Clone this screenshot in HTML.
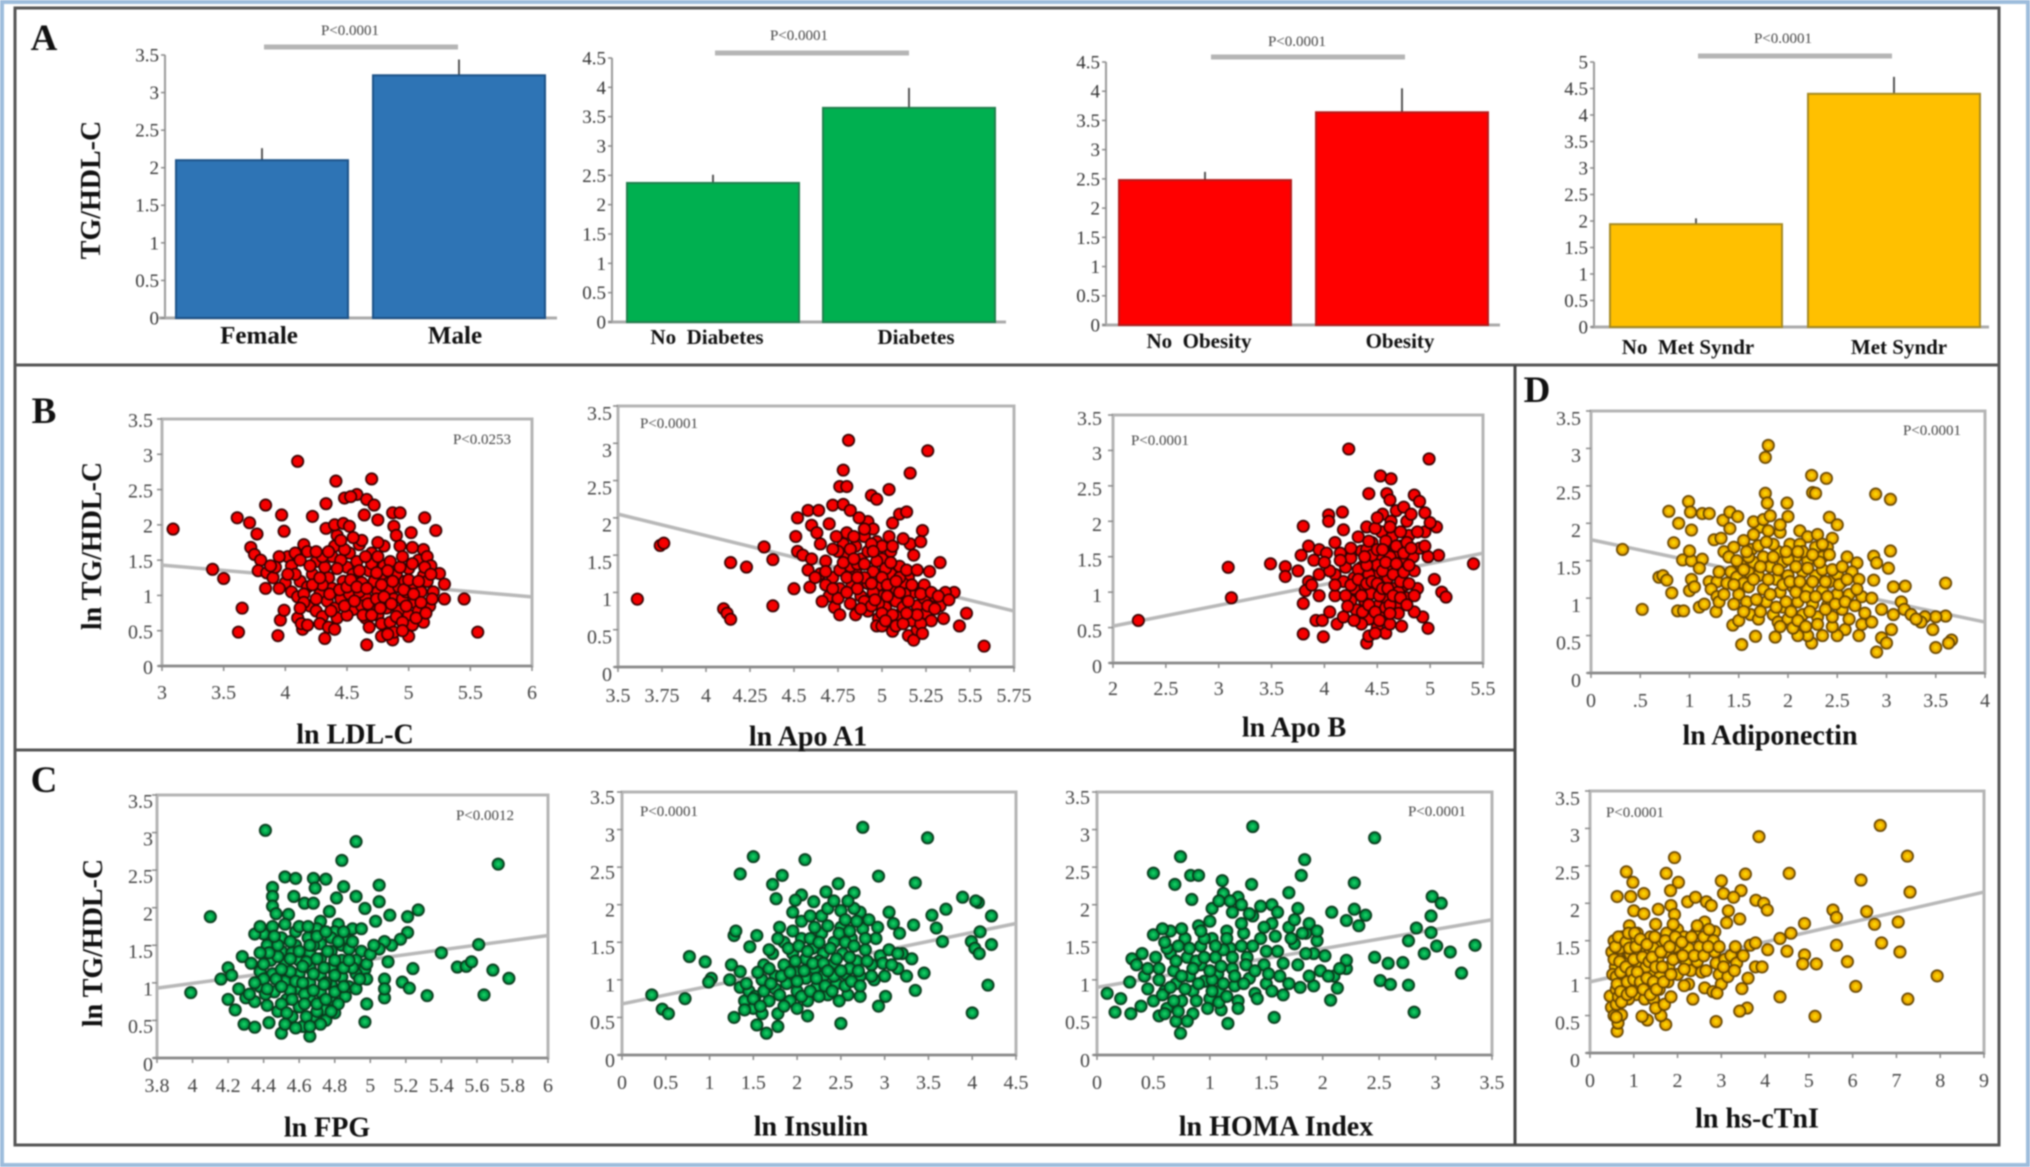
<!DOCTYPE html>
<html lang="en">
<head>
<meta charset="utf-8">
<title>TG/HDL-C composite figure</title>
<style>
html,body{margin:0;padding:0;background:#fff;width:2030px;height:1167px;overflow:hidden}
svg{display:block;filter:blur(.9px)}
text{font-family:"Liberation Serif",serif}
</style>
</head>
<body>
<svg id="figure" xmlns="http://www.w3.org/2000/svg" width="2030" height="1167" viewBox="0 0 2030 1167">
  <defs>
    <radialGradient id="dot-red"><stop offset="0" stop-color="#ff0000"/><stop offset=".7" stop-color="#ee0000"/><stop offset="1" stop-color="#a00000"/></radialGradient>
    <radialGradient id="dot-green"><stop offset="0" stop-color="#18d468"/><stop offset=".6" stop-color="#00a048"/><stop offset="1" stop-color="#005a2a"/></radialGradient>
    <radialGradient id="dot-orange"><stop offset="0" stop-color="#ffe000"/><stop offset=".65" stop-color="#eba800"/><stop offset="1" stop-color="#a87400"/></radialGradient>
  </defs>
  <rect x="0" y="0" width="2030" height="1167" fill="#9dbcdc"/>
  <rect x="4" y="4" width="2022" height="1159" fill="#ffffff"/>
  <rect x="15" y="8" width="1984" height="1137" fill="#ffffff" stroke="#555555" stroke-width="3"/>
  <line x1="15" y1="365" x2="1999" y2="365" stroke="#555555" stroke-width="3"/>
  <line x1="15" y1="750" x2="1515" y2="750" stroke="#555555" stroke-width="3"/>
  <line x1="1515" y1="365" x2="1515" y2="1145" stroke="#444444" stroke-width="3"/>
  <text x="44" y="50" font-size="37" font-weight="bold" text-anchor="middle" fill="#111">A</text>
  <text x="44" y="423" font-size="37" font-weight="bold" text-anchor="middle" fill="#111">B</text>
  <text x="44" y="792" font-size="37" font-weight="bold" text-anchor="middle" fill="#111">C</text>
  <text x="1537" y="402" font-size="37" font-weight="bold" text-anchor="middle" fill="#111">D</text>
  <text transform="translate(100,190) rotate(-90)" font-size="28" font-weight="bold" text-anchor="middle" fill="#111">TG/HDL-C</text>
  <text transform="translate(101,546) rotate(-90)" font-size="28" font-weight="bold" text-anchor="middle" fill="#111">ln TG/HDL-C</text>
  <text transform="translate(102,943) rotate(-90)" font-size="28" font-weight="bold" text-anchor="middle" fill="#111">ln TG/HDL-C</text>
</svg>
<script>
/* ---------- bar chart data ---------- */
const sexCategories=["Female","Male"];
const sexValues=[2.10,3.23];
const sexErrors=[0.16,0.21];
const sexTicks=[0,0.5,1,1.5,2,2.5,3,3.5];
const diabetesCategories=["No\u00a0 Diabetes","Diabetes"];
const diabetesValues=[2.37,3.65];
const diabetesErrors=[0.14,0.34];
const diabetesTicks=[0,0.5,1,1.5,2,2.5,3,3.5,4,4.5];
const obesityCategories=["No\u00a0 Obesity","Obesity"];
const obesityValues=[2.48,3.64];
const obesityErrors=[0.14,0.41];
const obesityTicks=[0,0.5,1,1.5,2,2.5,3,3.5,4,4.5];
const metCategories=["No\u00a0 Met Syndr","Met Syndr"];
const metValues=[1.94,4.40];
const metErrors=[0.11,0.32];
const metTicks=[0,0.5,1,1.5,2,2.5,3,3.5,4,4.5,5];

/* ---------- scatter data ---------- */
const scatterYTicks=["0","0.5","1","1.5","2","2.5","3","3.5"];

const ldlXTicks=["3","3.5","4","4.5","5","5.5","6"];
const ldlTrend=[1.43,0.98];
const ldlPoints=[[3.09,1.94],[4.10,2.90],[4.41,2.62],[4.70,2.65],[3.41,1.37],[3.50,1.24],[3.65,.82],[3.62,.48],[3.61,2.10],[3.71,2.03],[3.77,1.87],[3.84,2.28],[3.97,2.14],[3.99,1.91],[4.22,2.12],[4.33,2.30],[4.48,2.38],[4.58,2.43],[4.53,2.40],[4.66,2.36],[4.72,2.28],[4.64,2.14],[4.75,2.07],[4.87,2.17],[4.93,2.17],[5.02,1.89],[5.13,2.10],[5.22,1.92],[5.45,.95],[5.56,.48],[5.29,.95],[5.25,1.31],[5.29,1.16],[3.84,1.10],[3.94,.43],[3.96,.65],[3.99,.79],[4.66,.30],[4.32,.39],[5.0,.42],[4.14,.52],[4.87,.37],
[4.02,1.55],[4.05,1.42],[4.08,1.6],[4.12,1.5],[4.15,1.72],[4.18,1.62],[4.25,1.48],[4.0,1.18],[4.05,1.05],[4.1,.98],[4.12,1.2],[4.18,1.12],[4.22,1.3],[4.28,1.02],[4.2,.85],[4.25,.78],[4.3,.7],[4.1,.68],[4.13,.6],[4.18,.58],[4.32,1.4],[4.35,1.25],[4.38,1.55],[4.4,1.7],[4.42,1.85],[4.33,1.95],[4.38,1.1],[4.34,.92],[4.4,.82],[4.42,.68],[4.45,.95],[4.47,1.2],[4.5,1.4],[4.52,1.6],[4.55,1.3],[4.58,1.48],[4.6,1.72],[4.52,1.02],[4.55,.8],[4.5,.72],[4.62,1.18],[4.65,.98],[4.68,1.35],[4.7,1.6],[4.72,1.2],[4.75,1.05],[4.62,.85],[4.65,.68],[4.68,.55],[4.72,.88],[4.75,.72],[4.78,.6],[4.8,1.42],[4.82,1.25],[4.85,1.1],[4.88,.95],[4.8,1.7],[4.85,1.48],[4.9,1.3],[4.92,1.12],[4.82,.82],[4.85,.62],[4.88,.48],[4.92,.78],[4.95,.95],[4.97,1.2],[5.0,1.38],[5.02,1.1],[5.05,.9],[5.0,.72],[5.03,.58],[5.08,.78],[5.1,1.05],[5.12,1.28],[5.08,1.5],[5.12,1.65],[5.15,1.55],[5.18,1.42],[5.2,1.05],[5.17,.85],[5.12,.62],[5.15,1.2],[4.88,1.98],[4.9,1.85],[4.93,1.7],[3.72,1.68],[3.75,1.58],[3.8,1.5],[3.78,1.35],[3.85,1.32],[3.9,1.25],[3.95,1.55],[3.95,1.1],[4.4,2.0],[4.47,2.02],[4.52,1.98],[4.62,1.78],[4.75,1.75],[4.3,1.15],[4.6,1.05],[4.78,1.3],[4.98,1.05],[4.25,.95],[4.45,1.5],
[4.08,1.3],[4.15,1.02],[4.15,.9],[4.22,1.15],[4.28,1.25],[4.3,1.55],[4.36,1.02],[4.37,.78],[4.42,1.38],[4.44,1.08],[4.48,.85],[4.5,1.12],[4.53,1.22],[4.56,.92],[4.58,1.12],[4.6,1.35],[4.63,.72],[4.66,1.1],[4.67,.88],[4.7,1.45],[4.7,.72],[4.74,1.32],[4.74,.95],[4.77,.82],[4.78,1.15],[4.8,.98],[4.83,1.35],[4.86,.88],[4.87,1.2],[4.9,.7],[4.93,1.4],[4.95,.62],[4.96,1.08],[4.98,.85],[5.0,1.22],[5.03,1.45],[5.04,1.02],[5.06,.68],[5.08,1.2],[5.1,.9],[5.13,1.4],[5.14,.75],[5.18,1.3],[5.19,.95],[4.35,1.62],[4.48,1.65],[4.65,1.55],[4.75,1.55],[4.95,1.55],[5.03,1.68],[4.25,1.62],[4.2,1.42],[4.12,.82],[4.02,1.3],[3.92,1.4],[3.88,1.42],[4.55,1.82],[4.45,1.78],[4.28,.6],[4.35,.55],[4.4,.52],[4.95,.5],[4.78,.42],[4.83,.45]];

const apoaXTicks=["3.5","3.75","4","4.25","4.5","4.75","5","5.25","5.5","5.75"];
const apoaTrend=[2.05,.75];
const apoaPoints=[[3.61,.91],[3.74,1.63],[3.76,1.66],[4.14,1.40],[4.23,1.34],[4.10,.78],[4.12,.72],[4.14,.64],[4.33,1.61],[4.38,1.44],[4.38,.82],[4.50,1.05],[4.59,1.07],[4.81,3.04],[5.26,2.90],[5.16,2.60],[4.78,2.64],[5.04,2.38],[4.76,2.42],[4.80,2.42],[4.94,2.30],[5.58,.28],[5.48,.72],[5.44,.55],[5.41,1.0],[5.33,1.40],[5.23,1.83],[4.97,2.25],[4.72,2.17],[4.78,2.18],[4.82,2.1],[4.58,2.1],[4.64,2.1],[4.52,2.0],[4.51,1.75],[4.52,1.55],[4.55,1.5],[4.6,1.9],[4.63,1.8],[4.7,1.92],[4.65,1.65],[4.58,1.3],[4.65,1.25],[4.68,1.42],[4.72,1.2],[4.7,.95],[4.73,.8],[4.76,.7],[4.82,.85],[4.76,1.05],[4.76,1.3],[4.8,1.5],[4.78,1.65],[4.8,1.8],[4.85,1.62],[4.88,1.45],[4.85,1.28],[4.83,1.1],[4.88,.95],[4.92,.75],[4.98,.65],[4.92,1.12],[4.95,1.28],[4.92,1.55],[4.9,1.75],[4.92,1.95],[4.95,1.85],[4.97,1.68],[5.0,1.45],[4.98,1.1],[5.0,.95],[5.02,.8],[5.03,.6],[5.06,.48],[5.15,.42],[5.18,.36],[5.2,.5],[5.17,.62],[5.1,.7],[5.08,.88],[5.08,1.05],[5.05,1.25],[5.1,1.35],[5.05,1.55],[5.04,1.75],[5.06,1.93],[5.1,2.05],[5.14,2.08],[5.16,1.65],[5.22,1.68],[5.18,1.5],[5.15,1.2],[5.18,1.0],[5.2,.82],[5.25,.72],[5.27,1.28],[5.24,1.1],[5.3,.95],[5.33,.82],[5.35,.65],[5.36,1.0],[5.28,.62],[5.22,.58],[5.0,1.62],[4.95,1.0],[4.85,.7],[5.12,1.12],[4.68,1.1],[4.74,1.75],[5.02,1.32],[4.9,1.2],[5.13,.98],[5.24,.92],[4.87,2.0],[4.82,1.35],[4.98,.85],
[4.75,1.55],[4.78,1.4],[4.8,1.2],[4.84,1.75],[4.86,1.38],[4.86,1.05],[4.9,1.85],[4.9,1.38],[4.9,.88],[4.94,1.65],[4.94,1.12],[4.94,.82],[4.97,1.42],[4.97,.55],[5.0,1.2],[5.0,.72],[5.0,.55],[5.03,1.1],[5.03,.95],[5.05,1.4],[5.06,.7],[5.08,.55],[5.1,1.2],[5.1,1.0],[5.12,.8],[5.12,.58],[5.14,1.3],[5.15,.88],[5.17,1.1],[5.2,1.3],[5.2,.7],[5.22,.98],[5.23,.45],[5.26,.82],[5.28,1.0],[5.3,.78],[5.32,.95],[5.38,.9],[4.86,1.2],[4.82,1.58],[4.88,.78],[4.75,.92],[4.72,1.05],[4.68,1.28],[4.66,.88],[4.62,1.2],[4.6,1.45],[4.72,1.58],[4.95,1.55],[5.08,1.15],[5.14,.72],[5.02,.62],[4.96,.9],[4.8,1.0],[4.84,1.45],[5.06,1.62],[5.12,1.72]];

const apobXTicks=["2","2.5","3","3.5","4","4.5","5","5.5"];
const apobTrend=[.52,1.55];
const apobPoints=[[2.24,.60],[3.09,1.35],[3.12,.92],[3.49,1.40],[3.63,1.36],[3.63,1.22],[3.8,.84],[3.8,.41],[3.8,1.93],[4.04,2.09],[4.04,2.0],[4.17,2.13],[4.23,3.02],[4.99,2.88],[4.53,2.64],[4.63,2.6],[4.42,2.39],[4.59,2.39],[4.62,2.3],[4.85,2.37],[4.9,2.28],[5.41,1.40],[5.04,1.18],[5.11,1.0],[5.15,.93],[4.98,.49],[4.93,.65],[4.40,.28],[3.99,.37],[5.08,1.52],[5.06,1.92],[4.95,2.12],[4.78,2.0],[4.55,2.1],[4.63,2.0],[4.4,1.92],[4.18,1.88],[4.1,1.7],[3.95,1.6],[4.02,1.55],[3.85,1.65],[3.78,1.52],[3.75,1.3],[3.85,1.15],[3.82,1.02],[3.95,1.25],[3.95,.95],[3.92,.6],[3.98,.6],[4.05,.72],[4.1,.95],[4.12,.55],[4.18,.65],[4.18,1.15],[4.2,1.35],[4.25,1.48],[4.28,1.2],[4.3,.98],[4.3,.75],[4.35,1.58],[4.35,1.35],[4.38,1.1],[4.38,.88],[4.42,.62],[4.43,1.45],[4.45,1.7],[4.48,1.25],[4.48,1.02],[4.5,.8],[4.5,.5],[4.52,1.48],[4.54,1.85],[4.56,1.62],[4.56,1.15],[4.58,.92],[4.6,.68],[4.62,1.35],[4.64,1.78],[4.66,1.55],[4.66,1.05],[4.68,.82],[4.7,1.25],[4.72,1.65],[4.74,1.42],[4.76,1.1],[4.78,.92],[4.73,.52],[4.8,1.8],[4.84,1.5],[4.85,1.3],[4.85,.72],[4.9,1.62],[4.95,1.85],[5.0,1.98],[4.98,1.5],[4.42,.38],[4.58,.42],[4.32,1.78],[4.25,1.62],[4.15,1.55],[4.1,1.25],[4.42,1.25],[4.5,1.38],[4.6,1.2],[4.44,.98],[4.36,.72],[4.7,1.0],[4.55,.72],[4.88,1.05],[4.62,1.5],[4.4,1.6],[4.28,1.05],[4.72,1.85],[4.48,1.9],
[4.25,1.1],[4.25,.88],[4.32,1.32],[4.32,1.18],[4.35,.95],[4.4,1.38],[4.4,1.12],[4.42,.82],[4.45,1.52],[4.45,1.15],[4.48,.72],[4.5,1.6],[4.5,1.12],[4.52,.95],[4.52,.6],[4.55,1.3],[4.55,1.05],[4.58,1.72],[4.58,1.42],[4.58,.78],[4.6,1.05],[4.62,.82],[4.62,.55],[4.65,1.25],[4.65,.95],[4.68,1.65],[4.68,1.4],[4.7,.7],[4.72,1.15],[4.72,.92],[4.75,1.55],[4.75,1.28],[4.78,1.7],[4.78,.82],[4.8,1.38],[4.8,1.12],[4.82,1.62],[4.85,.95],[4.2,.95],[4.15,1.45],[4.1,1.1],[4.05,1.3],[4.35,.55],[4.28,.6],[4.22,.8],[4.38,1.5],[4.42,1.72],[4.62,1.92],[4.68,2.15],[4.75,2.2],[4.5,2.05],[4.82,2.1],[4.88,1.85],[4.95,1.65],[4.55,1.6],[4.48,.42],[4.62,.7],[3.9,1.45],[3.88,1.1],[4.0,1.42]];

const adipoXTicks=["0",".5","1","1.5","2","2.5","3","3.5","4"];
const adipoTrend=[1.78,.68];
const adipoPoints=[[.32,1.65],[.52,.85],[.79,2.16],[.99,2.29],[1.80,3.04],[1.77,2.88],[2.24,2.64],[2.39,2.6],[2.25,2.41],[2.28,2.4],[1.77,2.4],[1.79,2.27],[1.99,2.27],[2.89,2.39],[3.04,2.32],[3.6,1.2],[3.66,.44],[3.63,.4],[3.5,.34],[2.9,.28],[1.53,.38],[1.67,.49],[1.87,.48],[2.24,.4],[2.2,.5],[3.6,.76],[3.5,.75],[3.39,.75],[3.47,.58],[3.35,.68],[3.04,1.63],[3.02,1.4],[2.87,1.56],[2.9,1.47],[2.87,1.24],[3.07,1.15],[3.19,1.16],[.84,1.74],[.93,1.51],[1.02,1.5],[1.0,1.63],[.69,1.28],[.73,1.3],[.77,1.24],[.82,1.07],[.88,.83],[.94,.83],[1.1,.88],[1.15,.92],[1.27,.82],[1.44,.64],[1.5,.7],[.89,2],[1.01,2.15],[1.13,2.13],[1.2,2.13],[1.34,2.04],[1.41,2.15],[1.49,2.09],[1.41,1.93],[1.02,1.91],[1.13,1.52],[1.1,1.4],[1.02,1.25],[1.0,1.1],[1.05,1.15],[1.2,1.22],[1.28,1.22],[1.22,1.12],[1.28,1.02],[1.3,.95],[1.25,1.78],[1.32,1.8],[1.35,1.62],[1.45,1.68],[1.4,1.55],[1.55,1.77],[1.63,1.65],[1.7,1.7],[1.72,1.95],[1.65,2.02],[1.75,2.05],[1.82,2.1],[1.8,1.9],[1.92,1.88],[2.0,2.09],[2.12,1.9],[2.2,1.82],[2.3,1.85],[2.42,2.08],[2.5,1.98],[2.45,1.8],[2.4,1.68],[2.35,1.55],[2.6,1.55],[2.7,1.47],[2.65,1.35],[2.72,1.25],[2.55,1.22],[2.62,1.05],[2.75,1.02],[2.85,1.0],[2.95,.85],[3.07,.78],[3.15,.95],[3.18,.85],[3.25,.78],[3.3,.72],[3.05,.58],[2.95,.47],[3.0,.4],[2.72,.5],[2.75,.65],[2.85,.68],[2.78,.8],[2.58,.58],[2.5,.5],[2.35,.5],[2.1,.5],[2.45,.62],
[1.42,1.35],[1.48,1.28],[1.55,1.2],[1.5,1.05],[1.45,.92],[1.58,.95],[1.62,.78],[1.7,.72],[1.6,1.35],[1.65,1.48],[1.7,1.3],[1.75,1.12],[1.78,.95],[1.85,.78],[1.9,.68],[1.75,1.55],[1.82,1.42],[1.88,1.25],[1.92,1.08],[1.95,.88],[2.0,.72],[2.05,.6],[1.9,1.62],[1.95,1.48],[2.0,1.3],[2.05,1.15],[2.1,.95],[2.15,.78],[2.02,1.72],[2.08,1.55],[2.15,1.35],[2.2,1.12],[2.25,.92],[2.3,.75],[2.2,1.5],[2.28,1.3],[2.35,1.1],[2.4,.9],[2.45,.75],[2.35,1.38],[2.42,1.22],[2.5,1.05],[2.55,.85],[2.5,1.32],[2.28,1.68],[2.12,1.72],[1.85,1.72],[1.6,1.15],[1.3,1.35],
[1.52,1.45],[1.55,.82],[1.65,1.25],[1.68,.98],[1.72,1.42],[1.72,.82],[1.8,1.25],[1.82,1.05],[1.85,1.55],[1.88,.88],[1.9,1.38],[1.92,.62],[1.95,1.18],[1.98,.95],[2.0,1.52],[2.02,1.22],[2.03,.82],[2.08,1.42],[2.08,1.08],[2.1,.7],[2.12,1.22],[2.18,1.02],[2.18,.62],[2.2,1.4],[2.22,.82],[2.25,1.22],[2.28,1.02],[2.3,.65],[2.32,1.48],[2.38,1.22],[2.38,.85],[2.4,1.02],[2.45,1.38],[2.48,.92],[2.52,1.18],[2.55,1.42],[2.58,.95],[2.62,.72],[2.68,.9],[2.7,1.12],[2.15,1.62],[1.98,1.62],[1.6,1.55],[1.48,1.5],[1.38,1.2],[1.35,1.05],[1.45,1.18],[1.65,1.85],[1.58,1.62],[1.78,1.75],[1.92,1.98],[2.1,1.62],[2.25,1.58],[2.35,1.72],[1.55,1.38],[2.42,1.58],[2.6,1.25]];

const tnXTicks=["0","1","2","3","4","5","6","7","8","9"];
const tnTrend=[.95,2.15];
const tnPoints=[[.83,2.42],[.98,2.28],[1.93,2.61],[1.74,2.4],[2.02,2.28],[1.84,2.17],[3.86,2.89],[6.63,3.04],[7.25,2.63],[6.19,2.31],[7.31,2.15],[4.55,2.4],[3.55,2.39],[3.0,2.3],[3.05,2.13],[3.45,2.17],[3.28,2.08],[3.79,2.04],[3.97,2],[4.05,1.91],[3.16,1.9],[3.12,1.74],[3.42,1.79],[5.55,1.91],[5.63,1.81],[4.9,1.73],[6.32,1.89],[6.5,1.72],[7.04,1.75],[6.66,1.47],[5.63,1.44],[7.08,1.35],[4.59,1.6],[4.34,1.53],[4.5,1.36],[4.06,1.38],[4.9,1.31],[4.86,1.19],[5.17,1.19],[5.88,1.22],[6.07,.89],[7.93,1.03],[7.26,.72],[4.34,.75],[5.14,.49],[2.88,.42],[3.59,.6],[3.42,.56],[3.47,.86],[3.61,1],[3.78,1.15],[3.93,1.15],[3.66,1.44],[3.78,1.47],[.62,2.09],[.93,2.09],[1.23,2.13],[1,1.9],[1.23,1.86],[1.56,1.92],[1.85,1.97],[1.93,1.85],[2.23,2.02],[2.41,2.08],[2.66,2.02],[2.77,1.97],[2.62,1.75],[2.85,1.62],[.62,.29],[.64,.4],[.72,.51],[.49,.61],[.46,.76],[1.73,.38],[1.31,.44],[1.19,.49],[1.62,.5],[2.35,.72],[2.62,.87],[2.81,.82],
[.55,1.5],[.62,1.32],[.58,1.15],[.65,1.0],[.6,.85],[.72,1.55],[.78,1.4],[.75,1.22],[.8,1.05],[.72,.9],[.78,.72],[.9,1.7],[.95,1.5],[.92,1.32],[.98,1.15],[.9,.95],[1.05,.78],[1.08,1.6],[1.15,1.38],[1.1,1.2],[1.18,1.02],[1.12,.88],[1.25,.72],[1.38,1.55],[1.32,1.3],[1.4,1.1],[1.35,.92],[1.45,.72],[1.5,.6],[1.5,1.72],[1.58,1.45],[1.55,1.25],[1.6,1.02],[1.58,.85],[1.7,.65],[1.75,1.6],[1.72,1.35],[1.8,1.15],[1.78,.95],[1.85,.75],[2.0,1.65],[1.95,1.42],[2.05,1.28],[2.0,1.05],[2.15,1.55],[2.25,1.4],[2.2,1.22],[2.3,1.1],[2.25,.92],[2.42,1.6],[2.5,1.42],[2.45,1.22],[2.55,1.08],[2.6,1.55],[2.72,1.65],[2.82,1.5],[2.85,1.35],[2.88,1.2],[2.95,1.05],[3.0,.92],[2.9,.8],[3.08,1.25],[3.22,1.3],[3.32,1.42],[3.35,1.2],[3.15,1.02],[3.5,1.3],[.52,1.05],[.5,1.35],[.6,.65],[.88,.72],[1.05,1.35],[1.45,1.4],[.68,1.4],[1.28,1.15],
[.55,1.25],[.58,1.42],[.6,1.02],[.62,.92],[.65,.75],[.65,1.55],[.68,1.22],[.7,1.08],[.7,.82],[.72,.68],[.82,1.48],[.82,1.15],[.85,.95],[.85,.78],[.88,1.6],[.9,1.4],[.95,1.08],[.95,.82],[1.0,1.25],[1.0,.98],[1.02,1.6],[1.05,1.42],[1.08,1.08],[1.15,.95],[1.15,1.52],[1.2,1.28],[1.22,.85],[1.3,1.45],[1.3,1.0],[1.35,1.22],[1.38,.78],[1.42,1.28],[1.45,.95],[1.48,1.55],[1.5,1.15],[1.52,.85],[1.62,1.35],[1.65,1.15],[1.68,.95],[1.72,1.5],[1.82,1.42],[1.85,1.05],[1.9,1.25],[1.95,1.55],[2.1,1.48],[2.12,1.3],[2.15,1.12],[2.32,1.55],[2.38,1.3],[2.6,1.3],[2.65,1.1],[2.7,1.42],[2.95,1.42],[3.05,1.15],[2.15,.9],[.55,.5],[.6,.48],[1.9,1.72],[2.45,1.7],[3.3,1.1]];

const fpgXTicks=["3.8","4","4.2","4.4","4.6","4.8","5","5.2","5.4","5.6","5.8","6"];
const fpgTrend=[.93,1.63];
const fpgPoints=[[3.99,.87],[4.1,1.88],[4.41,3.03],[4.92,2.88],[4.84,2.63],[5.72,2.58],[5.05,2.3],[5.05,2.08],[5.27,1.97],[5.21,1.88],[5.21,1.67],[5.4,1.4],[5.61,1.51],[5.49,1.21],[5.54,1.22],[5.57,1.28],[5.69,1.17],[5.78,1.06],[5.64,.84],[5.32,.83],[5.24,1.19],[4.97,.48],[4.98,.72],[5.08,.8],[5.18,1.01],[5.22,.93],[4.66,.29],[4.5,.33],[4.29,.45],[4.35,.41],[4.43,.47],[4.2,.78],[4.24,.64],[4.16,1.05],[4.2,1.2],[4.28,1.35],[4.33,1.26],[4.52,2.41],[4.58,2.39],[4.68,2.39],[4.75,2.38],[4.69,2.26],[4.45,2.27],[4.85,2.28],[4.81,2.13],[4.92,2.15],[4.97,1.99],[5.11,1.9],[5.03,1.82],[4.45,2.15],[4.45,2.02],[4.47,1.92],[4.54,1.91],[4.57,2.15],[4.63,2.06],[4.68,2.06],[4.77,1.95],[5.17,1.58],[5.12,1.5],[5.08,1.55],[5.05,1.45],[5.1,1.28],[5.08,1.05],[5.08,.92],[4.97,1.18],[4.98,1.05],[4.95,1.42],[4.92,1.3],[4.9,1.72],[4.95,1.72],[4.82,1.78],[4.72,1.82],[4.8,1.68],[4.4,1.65],[4.45,1.75],[4.52,1.78],
[4.22,1.1],[4.26,.92],[4.3,.8],[4.35,.75],[4.38,1.15],[4.38,.95],[4.42,.7],[4.42,1.5],[4.44,1.3],[4.45,1.12],[4.46,.88],[4.48,.62],[4.5,1.6],[4.5,1.42],[4.52,1.25],[4.52,1.02],[4.53,.78],[4.56,.55],[4.58,1.68],[4.58,1.5],[4.6,1.3],[4.6,1.12],[4.6,.92],[4.6,.68],[4.62,.42],[4.65,1.6],[4.66,1.4],[4.66,1.2],[4.66,1.0],[4.66,.78],[4.68,.55],[4.7,1.72],[4.72,1.52],[4.72,1.32],[4.72,1.1],[4.72,.88],[4.74,.65],[4.78,1.6],[4.78,1.42],[4.78,1.2],[4.78,.98],[4.78,.78],[4.8,.6],[4.84,1.5],[4.84,1.3],[4.84,1.08],[4.86,.82],[4.88,.95],[4.92,1.12],[4.9,1.2],[4.86,1.6],[4.55,1.15],[4.68,1.5],[4.48,1.35],[4.63,.85],[4.75,1.0],[4.4,1.05],[4.55,.9],[4.7,.62],[4.82,.72],[4.64,1.28],[4.56,1.4],
[4.4,1.25],[4.41,.85],[4.43,1.4],[4.47,1.05],[4.48,1.5],[4.5,1.18],[4.5,.95],[4.5,.72],[4.53,.6],[4.55,1.55],[4.55,1.32],[4.56,.78],[4.58,1.02],[4.6,1.42],[4.62,1.22],[4.62,1.0],[4.63,.72],[4.64,.55],[4.66,1.5],[4.68,1.12],[4.68,.9],[4.7,.72],[4.7,1.32],[4.7,1.62],[4.74,1.2],[4.74,.98],[4.75,.78],[4.76,1.42],[4.8,1.3],[4.8,1.1],[4.8,.88],[4.82,1.55],[4.85,1.2],[4.85,.95],[4.88,1.45],[4.88,1.3],[4.9,1.55],[4.92,.92],[4.94,1.05],[4.98,1.25],[5.0,1.38],[5.02,1.5],[4.75,1.68],[4.85,1.68],[4.6,1.75],[4.65,1.75],[4.42,.92],[4.35,1.0],[4.32,.85],[4.38,1.4],[4.35,1.65],[4.38,1.75],[4.46,1.62],[4.52,.45],[4.75,.5],[4.72,.45],[4.66,.42],[4.58,.4],[4.78,.62]];

const insulinXTicks=["0","0.5","1","1.5","2","2.5","3","3.5","4","4.5"];
const insulinTrend=[.68,1.75];
const insulinPoints=[[.34,.8],[.46,.61],[.53,.55],[.72,.75],[.77,1.31],[.95,1.24],[1.02,1.02],[.99,.97],[1.35,2.41],[1.5,2.64],[2.09,2.6],[2.75,3.03],[3.49,2.89],[2.93,2.38],[3.35,2.29],[1.83,2.39],[1.72,2.27],[1.76,2.08],[3.89,2.1],[4.07,2.03],[4.04,2.05],[4.22,1.85],[3.7,1.94],[3.54,1.86],[3.59,1.69],[3.66,1.51],[3.33,1.73],[4.09,1.64],[3.99,1.51],[4.03,1.42],[4.22,1.47],[4.08,1.35],[4.18,.93],[4,.56],[3.35,.86],[3.45,1.09],[3.31,1.28],[1.28,1.59],[1.3,1.65],[1.54,1.59],[1.46,1.44],[1.25,1.2],[1.35,1.11],[1.23,1],[1.28,.5],[1.65,.29],[1.54,.4],[1.78,.38],[2.5,.42],[2.12,.52],[2.93,.65],[3.01,.78],[2.47,2.28],[2.65,2.16],[2.33,2.17],[2.05,2.13],[1.98,2.06],[2.19,2.04],[2.72,1.9],[3.05,1.9],[3.1,1.75],[3.17,1.62],
[1.35,.9],[1.4,.72],[1.45,.85],[1.5,.62],[1.52,.78],[1.6,1.0],[1.6,.55],[1.68,.72],[1.62,1.2],[1.72,1.35],[1.75,1.05],[1.75,.88],[1.78,.55],[1.8,1.7],[1.85,1.5],[1.85,1.2],[1.88,.95],[1.92,.72],[1.95,1.35],[1.98,1.1],[2.0,.85],[2.05,1.78],[2.05,1.55],[2.1,1.28],[2.1,1.02],[2.12,.72],[2.18,1.42],[2.2,1.15],[2.22,.9],[2.28,1.85],[2.28,1.62],[2.3,1.35],[2.3,1.05],[2.35,.8],[2.42,1.5],[2.42,1.22],[2.45,.95],[2.5,1.7],[2.52,1.35],[2.55,1.08],[2.58,.8],[2.62,1.55],[2.65,1.95],[2.68,1.25],[2.72,.78],[2.75,1.68],[2.78,1.4],[2.85,1.2],[2.9,1.55],[2.95,1.32],[3.0,1.05],[2.88,1.0],[3.05,1.4],[3.15,1.15],[3.25,1.05],[3.2,1.35],[1.95,1.65],[2.25,1.25],[2.6,1.15],[2.2,1.7],[2.42,1.05],[1.62,.85],[2.5,1.92],[2.72,1.05],
[1.68,1.15],[1.7,.95],[1.8,.8],[1.82,1.05],[1.85,.65],[1.9,1.42],[1.92,1.1],[1.98,1.25],[2.0,.98],[2.02,1.45],[2.05,.78],[2.08,1.12],[2.12,1.38],[2.15,1.55],[2.15,.85],[2.18,1.22],[2.22,1.02],[2.25,1.5],[2.25,.78],[2.3,1.22],[2.32,.92],[2.35,1.72],[2.35,1.12],[2.38,1.42],[2.4,.85],[2.45,1.28],[2.48,1.62],[2.48,.72],[2.5,1.12],[2.55,1.5],[2.55,.92],[2.6,1.3],[2.62,.98],[2.65,1.45],[2.68,1.78],[2.7,1.12],[2.72,.92],[2.78,1.55],[2.8,1.25],[2.82,1.8],[2.85,1.05],[2.92,1.7],[2.98,1.22],[3.08,1.2],[3.15,1.35],[2.55,1.8],[2.35,1.95],[2.42,2.05],[2.58,2.05],[1.55,1.1],[1.5,.75],[1.42,.95],[1.4,.6],[1.58,.65],[1.95,1.9],[2.15,1.85],[1.68,1.4],[1.78,1.55],[2.6,1.65],[2.0,.62]];

const homaXTicks=["0","0.5","1","1.5","2","2.5","3","3.5"];
const homaTrend=[.9,1.8];
const homaPoints=[[.09,.82],[.21,.75],[.16,.57],[.39,.65],[.29,.97],[.31,1.28],[1.38,3.04],[2.46,2.89],[.74,2.64],[.5,2.42],[.69,2.27],[.83,2.39],[.9,2.39],[.84,2.07],[1.11,2.32],[1.37,2.27],[1.84,2.6],[1.81,2.39],[1.7,2.16],[2.28,2.29],[2.08,1.9],[2.28,1.94],[2.38,1.86],[2.21,1.79],[2.32,1.72],[2.97,2.11],[3.05,2.02],[2.96,1.85],[2.83,1.69],[2.96,1.63],[2.76,1.52],[3.01,1.45],[3.35,1.46],[3.13,1.37],[2.9,1.35],[2.46,1.3],[2.58,1.22],[2.71,1.23],[3.23,1.09],[2.51,.99],[2.6,.94],[2.76,.93],[2.81,.57],[1.57,.5],[1.16,.42],[.74,.29],[2.07,.73],[2.13,.89],[2.21,1.15],[2.21,1.26],
[.35,1.2],[.42,1.05],[.45,.88],[.5,1.6],[.52,1.3],[.55,1.0],[.5,.72],[.55,.52],[.6,.85],[.62,.62],[.65,1.65],[.65,1.35],[.68,1.12],[.7,.95],[.7,.45],[.75,.72],[.78,1.55],[.8,1.3],[.82,1.05],[.85,.85],[.85,.55],[.9,1.72],[.92,1.45],[.92,1.2],[.95,.98],[1.0,.75],[1.0,1.78],[1.02,1.55],[1.05,1.3],[1.07,1.08],[1.08,.85],[1.1,.6],[1.12,2.15],[1.15,1.65],[1.18,1.42],[1.2,1.15],[1.22,.92],[1.25,.72],[1.2,1.9],[1.25,2.1],[1.3,1.62],[1.33,1.3],[1.35,1.02],[1.4,.82],[1.38,1.85],[1.45,1.55],[1.48,1.2],[1.5,.95],[1.45,1.98],[1.55,1.75],[1.6,1.38],[1.62,1.05],[1.65,.8],[1.55,2.0],[1.7,1.7],[1.75,1.48],[1.78,1.2],[1.8,.9],[1.78,1.95],[1.85,1.62],[1.92,1.35],[1.92,.92],[1.95,1.52],[1.98,1.12],[2.02,1.32],[2.1,1.05],[1.88,1.75],[.72,1.45],[1.02,1.0],[1.12,1.4],[.88,1.25],[1.28,1.45],[.62,1.42],
[.4,1.35],[.45,1.15],[.55,1.15],[.58,.8],[.6,1.5],[.6,.55],[.65,.9],[.68,.72],[.7,1.25],[.72,.58],[.75,1.05],[.78,.88],[.8,.45],[.82,1.42],[.85,1.15],[.88,.72],[.9,.95],[.95,1.55],[.95,1.3],[.98,.62],[1.0,1.12],[1.02,.85],[1.05,1.45],[1.08,.7],[1.1,1.18],[1.12,.95],[1.15,1.55],[1.15,.78],[1.2,1.3],[1.22,1.05],[1.25,.62],[1.28,1.75],[1.3,.95],[1.32,1.2],[1.35,1.88],[1.38,1.45],[1.4,1.12],[1.42,.75],[1.48,1.7],[1.5,1.38],[1.52,1.08],[1.55,.85],[1.58,1.58],[1.6,1.9],[1.65,1.22],[1.7,.95],[1.72,1.55],[1.75,1.8],[1.82,1.62],[1.85,1.35],[1.88,1.05],[1.95,1.65],[1.02,1.95],[1.08,2.05],[1.18,2.05],[1.28,2.0],[.92,1.65],[.75,1.68],[.58,1.68],[.3,.55],[2.05,1.05],[2.15,1.15]];

/* ---------- drawing ---------- */
const SVG_NS="http://www.w3.org/2000/svg";
const fig=document.getElementById("figure");

function el(tag,attrs,parent){
  const node=document.createElementNS(SVG_NS,tag);
  for(const k in attrs){node.setAttribute(k,attrs[k]);}
  (parent||fig).appendChild(node);
  return node;
}
function label(txt,x,y,size,opts,parent){
  const t=el("text",Object.assign({x:x,y:y+size*0.34,"font-size":size,"text-anchor":"middle",fill:"#222"},opts||{}),parent);
  t.textContent=txt;
  return t;
}

function drawBarChart(id,g,categories,values,errors,ticks,color){
  const group=el("g",{});
  
  
  const yMax=ticks[ticks.length-1];
  const yScale=v=>g.y0-(v/yMax)*(g.y0-g.yTop);
  const axisY=el("line",{x1:g.axisX,y1:g.yTop,x2:g.axisX,y2:g.y0,stroke:"#999",'stroke-width':2},group);
  
  
  const axisX=el("line",{x1:g.xStart,y1:g.y0,x2:g.xEnd,y2:g.y0,stroke:"#aaa",'stroke-width':3},group);
  
  
  ticks.forEach(function(t){
    const y=yScale(t);
    const tick=el("line",{x1:g.axisX-4,y1:y,x2:g.axisX,y2:y,stroke:"#888",'stroke-width':1.5},group);
    
    
    const tl=label(String(t),g.axisX-6,y,19,{"text-anchor":"end",fill:"#333"},group);
    
    
  });
  values.forEach(function(v,i){
    const left=g.barLefts[i];
    const top=yScale(v);
    const errTop=yScale(v+errors[i]);
    const cx=left+g.barW/2;
    const err=el("line",{x1:cx,y1:errTop,x2:cx,y2:top,stroke:"#444",'stroke-width':1.8},group);
    
    
    const bar=el("rect",{x:left,y:top,width:g.barW,height:g.y0-top,fill:color.fill,stroke:color.edge,'stroke-width':2},group);
    
    
    const cat=label(categories[i],g.labelX[i],g.labelY,g.labelSize,{"font-weight":"bold",fill:"#111"},group);
    
    
  });
  const pbar=el("line",{x1:g.pX1,y1:g.pY,x2:g.pX2,y2:g.pY,stroke:"#b5b5b5",'stroke-width':5},group);
  
  
  const ptext=label("P<0.0001",g.pTextX,g.pTextY,15,{fill:"#444"},group);
  
  
}

function drawScatter(id,g,points,xTicks,trend,title,pval,dot){
  const group=el("g",{});
  
  
  const xMin=parseFloat(xTicks[0]);
  const xMax=parseFloat(xTicks[xTicks.length-1]);
  const yMax=parseFloat(scatterYTicks[scatterYTicks.length-1]);
  const sx=v=>g.l+(v-xMin)/(xMax-xMin)*(g.r-g.l);
  const sy=v=>g.b-(v/yMax)*(g.b-g.t);
  const box=el("rect",{x:g.l,y:g.t,width:g.r-g.l,height:g.b-g.t,fill:"#fff",stroke:"#b4b4b4",'stroke-width':3},group);
  
  
  const base=el("line",{x1:g.l-4,y1:g.b,x2:g.r,y2:g.b,stroke:"#8a8a8a",'stroke-width':2.5},group);
  
  
  scatterYTicks.forEach(function(t){
    const y=sy(parseFloat(t));
    const tick=el("line",{x1:g.l-5,y1:y,x2:g.l,y2:y,stroke:"#888",'stroke-width':1.5},group);
    
    
    const tl=label(t,g.l-g.yGap,y+g.yDy,20,{"text-anchor":"end",fill:"#444"},group);
    
    
  });
  xTicks.forEach(function(t){
    const x=sx(parseFloat(t));
    const tick=el("line",{x1:x,y1:g.b,x2:x,y2:g.b+5,stroke:"#888",'stroke-width':1.5},group);
    
    
    const tl=label(t,x,g.tickY,20,{fill:"#444"},group);
    
    
  });
  const line=el("line",{x1:sx(xMin),y1:sy(trend[0]),x2:sx(xMax),y2:sy(trend[1]),stroke:"#b8b8b8",'stroke-width':3.5},group);
  
  
  points.forEach(function(p){
    const c=el("circle",{cx:sx(p[0]),cy:sy(p[1]),r:5.8,fill:"url(#dot-"+dot.name+")",stroke:dot.edge,'stroke-width':1.5},group);
    
    
  });
  const pl=label(pval,g.pX,g.pY,15,{fill:"#444"},group);
  
  
  const xt=label(title,g.titleX,g.titleY,28,{"font-weight":"bold",fill:"#111"},group);
  
  
}

const blueBar={fill:"#2e74b5",edge:"#1c5288"};
const greenBar={fill:"#00b050",edge:"#1f7f4c"};
const redBar={fill:"#ff0000",edge:"#b51a1a"};
const goldBar={fill:"#ffc000",edge:"#a68a20"};
const redDot={name:"red",edge:"#330000"};
const greenDot={name:"green",edge:"#0a3a1c"};
const orangeDot={name:"orange",edge:"#664600"};

drawBarChart("sex",{axisX:165,yTop:55,y0:318,xStart:159,xEnd:557,barLefts:[176,373],barW:172,labelX:[259,455],labelY:335,labelSize:25,pX1:264,pX2:458,pY:47,pTextX:350,pTextY:30},sexCategories,sexValues,sexErrors,sexTicks,blueBar);
drawBarChart("diabetes",{axisX:612,yTop:58,y0:322,xStart:608,xEnd:1006,barLefts:[627,823],barW:172,labelX:[707,916],labelY:337,labelSize:21,pX1:715,pX2:909,pY:53,pTextX:799,pTextY:35},diabetesCategories,diabetesValues,diabetesErrors,diabetesTicks,greenBar);
drawBarChart("obesity",{axisX:1106,yTop:62,y0:325,xStart:1102,xEnd:1500,barLefts:[1119,1316],barW:172,labelX:[1199,1400],labelY:341,labelSize:21,pX1:1211,pX2:1405,pY:57,pTextX:1297,pTextY:41},obesityCategories,obesityValues,obesityErrors,obesityTicks,redBar);
drawBarChart("metabolic-syndrome",{axisX:1594,yTop:62,y0:327,xStart:1591,xEnd:1989,barLefts:[1610,1808],barW:172,labelX:[1688,1899],labelY:347,labelSize:21,pX1:1698,pX2:1892,pY:56,pTextX:1783,pTextY:38},metCategories,metValues,metErrors,metTicks,goldBar);

drawScatter("ldl",{l:162,r:532,t:419,b:666,yGap:9,yDy:1,tickY:692,pX:482,pY:439,titleX:355,titleY:734},ldlPoints,ldlXTicks,ldlTrend,"ln LDL-C","P<0.0253",redDot);
drawScatter("apo-a1",{l:618,r:1014,t:406,b:667,yGap:6,yDy:7,tickY:695,pX:669,pY:423,titleX:808,titleY:736},apoaPoints,apoaXTicks,apoaTrend,"ln Apo A1","P<0.0001",redDot);
drawScatter("apo-b",{l:1113,r:1483,t:415,b:663,yGap:11,yDy:3,tickY:688,pX:1160,pY:440,titleX:1294,titleY:727},apobPoints,apobXTicks,apobTrend,"ln Apo B","P<0.0001",redDot);
drawScatter("adiponectin",{l:1591,r:1985,t:411,b:673,yGap:10,yDy:7,tickY:700,pX:1932,pY:430,titleX:1770,titleY:735},adipoPoints,adipoXTicks,adipoTrend,"ln Adiponectin","P<0.0001",orangeDot);
drawScatter("fpg",{l:157,r:548,t:795,b:1058,yGap:4,yDy:6,tickY:1085,pX:485,pY:815,titleX:327,titleY:1127},fpgPoints,fpgXTicks,fpgTrend,"ln FPG","P<0.0012",greenDot);
drawScatter("insulin",{l:622,r:1016,t:792,b:1055,yGap:7,yDy:5,tickY:1082,pX:669,pY:811,titleX:811,titleY:1126},insulinPoints,insulinXTicks,insulinTrend,"ln Insulin","P<0.0001",greenDot);
drawScatter("homa",{l:1097,r:1492,t:792,b:1055,yGap:7,yDy:5,tickY:1082,pX:1437,pY:811,titleX:1276,titleY:1126},homaPoints,homaXTicks,homaTrend,"ln HOMA Index","P<0.0001",greenDot);
drawScatter("hs-ctni",{l:1590,r:1984,t:791,b:1053,yGap:10,yDy:7,tickY:1080,pX:1635,pY:812,titleX:1757,titleY:1118},tnPoints,tnXTicks,tnTrend,"ln hs-cTnI","P<0.0001",orangeDot);
</script>
</body>
</html>
